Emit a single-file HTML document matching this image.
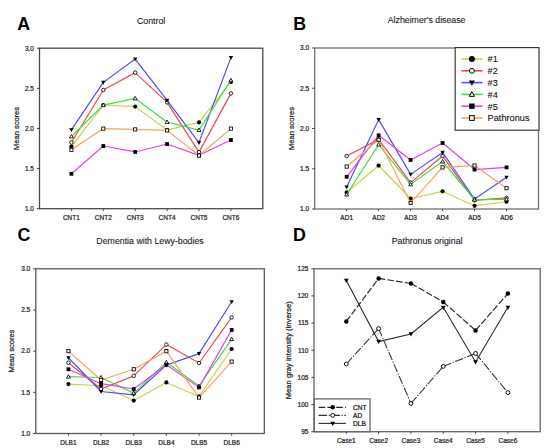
<!DOCTYPE html>
<html><head><meta charset="utf-8"><style>
html,body{margin:0;padding:0;background:#fff;}
body{width:550px;height:448px;overflow:hidden;font-family:"Liberation Sans", sans-serif;}
svg{display:block;}
</style></head><body>
<svg width="550" height="448" viewBox="0 0 550 448" font-family='"Liberation Sans", sans-serif'>
<rect width="550" height="448" fill="#fff"/>
<rect x="39.5" y="48.2" width="223.3" height="160.5" fill="none" stroke="#4a4a4a" stroke-width="1.3"/>
<line x1="36.9" y1="208.7" x2="39.5" y2="208.7" stroke="#333" stroke-width="0.9"/>
<text transform="translate(33.9,211) scale(1,1.06)" font-size="6.5" text-anchor="end" font-weight="normal" fill="#222" stroke="#222" stroke-width="0.22" >1.0</text>
<line x1="36.9" y1="168.57" x2="39.5" y2="168.57" stroke="#333" stroke-width="0.9"/>
<text transform="translate(33.9,170.88) scale(1,1.06)" font-size="6.5" text-anchor="end" font-weight="normal" fill="#222" stroke="#222" stroke-width="0.22" >1.5</text>
<line x1="36.9" y1="128.45" x2="39.5" y2="128.45" stroke="#333" stroke-width="0.9"/>
<text transform="translate(33.9,130.75) scale(1,1.06)" font-size="6.5" text-anchor="end" font-weight="normal" fill="#222" stroke="#222" stroke-width="0.22" >2.0</text>
<line x1="36.9" y1="88.32" x2="39.5" y2="88.32" stroke="#333" stroke-width="0.9"/>
<text transform="translate(33.9,90.62) scale(1,1.06)" font-size="6.5" text-anchor="end" font-weight="normal" fill="#222" stroke="#222" stroke-width="0.22" >2.5</text>
<line x1="36.9" y1="48.2" x2="39.5" y2="48.2" stroke="#333" stroke-width="0.9"/>
<text transform="translate(33.9,50.5) scale(1,1.06)" font-size="6.5" text-anchor="end" font-weight="normal" fill="#222" stroke="#222" stroke-width="0.22" >3.0</text>
<line x1="71.4" y1="208.7" x2="71.4" y2="210.9" stroke="#333" stroke-width="0.9"/>
<text transform="translate(71.4,219.9) scale(1,1.06)" font-size="6.5" text-anchor="middle" font-weight="normal" fill="#222" stroke="#222" stroke-width="0.22" >CNT1</text>
<line x1="103.3" y1="208.7" x2="103.3" y2="210.9" stroke="#333" stroke-width="0.9"/>
<text transform="translate(103.3,219.9) scale(1,1.06)" font-size="6.5" text-anchor="middle" font-weight="normal" fill="#222" stroke="#222" stroke-width="0.22" >CNT2</text>
<line x1="135.2" y1="208.7" x2="135.2" y2="210.9" stroke="#333" stroke-width="0.9"/>
<text transform="translate(135.2,219.9) scale(1,1.06)" font-size="6.5" text-anchor="middle" font-weight="normal" fill="#222" stroke="#222" stroke-width="0.22" >CNT3</text>
<line x1="167.1" y1="208.7" x2="167.1" y2="210.9" stroke="#333" stroke-width="0.9"/>
<text transform="translate(167.1,219.9) scale(1,1.06)" font-size="6.5" text-anchor="middle" font-weight="normal" fill="#222" stroke="#222" stroke-width="0.22" >CNT4</text>
<line x1="199" y1="208.7" x2="199" y2="210.9" stroke="#333" stroke-width="0.9"/>
<text transform="translate(199,219.9) scale(1,1.06)" font-size="6.5" text-anchor="middle" font-weight="normal" fill="#222" stroke="#222" stroke-width="0.22" >CNT5</text>
<line x1="230.9" y1="208.7" x2="230.9" y2="210.9" stroke="#333" stroke-width="0.9"/>
<text transform="translate(230.9,219.9) scale(1,1.06)" font-size="6.5" text-anchor="middle" font-weight="normal" fill="#222" stroke="#222" stroke-width="0.22" >CNT6</text>
<text transform="translate(151.15,23.9) scale(1,1.06)" font-size="8.8" text-anchor="middle" font-weight="normal" fill="#222" stroke="#222" stroke-width="0.1" >Control</text>
<text transform="translate(17.2,29.9) scale(1,1.0)" font-size="17.8" text-anchor="start" font-weight="bold" fill="#000"  >A</text>
<text transform="translate(19.1,128.45) rotate(-90) scale(1,1.06)" x="0" y="0" font-size="7.5" text-anchor="middle" fill="#222" stroke="#222" stroke-width="0.22">Mean scores</text>
<polyline points="71.4,146.51 103.3,105.02 135.2,106.62 167.1,130.06 199,122.43 230.9,81.9" fill="none" stroke="#c8d446" stroke-width="1.2" stroke-linejoin="round"/>
<circle cx="71.4" cy="146.51" r="2.1" fill="#000"/>
<circle cx="103.3" cy="105.02" r="2.1" fill="#000"/>
<circle cx="135.2" cy="106.62" r="2.1" fill="#000"/>
<circle cx="167.1" cy="130.06" r="2.1" fill="#000"/>
<circle cx="199" cy="122.43" r="2.1" fill="#000"/>
<circle cx="230.9" cy="81.9" r="2.1" fill="#000"/>
<polyline points="71.4,142.49 103.3,90.01 135.2,72.6 167.1,102.37 199,152.12 230.9,93.38" fill="none" stroke="#ee4a4a" stroke-width="1.2" stroke-linejoin="round"/>
<circle cx="71.4" cy="142.49" r="1.75" fill="#fff" stroke="#000" stroke-width="0.85"/>
<circle cx="103.3" cy="90.01" r="1.75" fill="#fff" stroke="#000" stroke-width="0.85"/>
<circle cx="135.2" cy="72.6" r="1.75" fill="#fff" stroke="#000" stroke-width="0.85"/>
<circle cx="167.1" cy="102.37" r="1.75" fill="#fff" stroke="#000" stroke-width="0.85"/>
<circle cx="199" cy="152.12" r="1.75" fill="#fff" stroke="#000" stroke-width="0.85"/>
<circle cx="230.9" cy="93.38" r="1.75" fill="#fff" stroke="#000" stroke-width="0.85"/>
<polyline points="71.4,129.81 103.3,82.39 135.2,59.03 167.1,100.36 199,142.57 230.9,57.59" fill="none" stroke="#5050ee" stroke-width="1.2" stroke-linejoin="round"/>
<path d="M69.2 128.27H73.6L71.4 132.12Z" fill="#000"/>
<path d="M101.1 80.85H105.5L103.3 84.7Z" fill="#000"/>
<path d="M133 57.49H137.4L135.2 61.34Z" fill="#000"/>
<path d="M164.9 98.82H169.3L167.1 102.67Z" fill="#000"/>
<path d="M196.8 141.03H201.2L199 144.88Z" fill="#000"/>
<path d="M228.7 56.05H233.1L230.9 59.9Z" fill="#000"/>
<polyline points="71.4,136.47 103.3,105.18 135.2,98.44 167.1,122.03 199,130.06 230.9,80.3" fill="none" stroke="#3ee03e" stroke-width="1.2" stroke-linejoin="round"/>
<path d="M69.45 137.94H73.35L71.4 134.43Z" fill="#fff" stroke="#000" stroke-width="0.85" stroke-linejoin="miter"/>
<path d="M101.35 106.64H105.25L103.3 103.13Z" fill="#fff" stroke="#000" stroke-width="0.85" stroke-linejoin="miter"/>
<path d="M133.25 99.9H137.15L135.2 96.39Z" fill="#fff" stroke="#000" stroke-width="0.85" stroke-linejoin="miter"/>
<path d="M165.15 123.49H169.05L167.1 119.98Z" fill="#fff" stroke="#000" stroke-width="0.85" stroke-linejoin="miter"/>
<path d="M197.05 131.52H200.95L199 128.01Z" fill="#fff" stroke="#000" stroke-width="0.85" stroke-linejoin="miter"/>
<path d="M228.95 81.76H232.85L230.9 78.25Z" fill="#fff" stroke="#000" stroke-width="0.85" stroke-linejoin="miter"/>
<polyline points="71.4,173.79 103.3,146.02 135.2,151.96 167.1,144.02 199,155.33 230.9,140.01" fill="none" stroke="#ee3cee" stroke-width="1.2" stroke-linejoin="round"/>
<rect x="69.5" y="171.89" width="3.8" height="3.8" fill="#000"/>
<rect x="101.4" y="144.12" width="3.8" height="3.8" fill="#000"/>
<rect x="133.3" y="150.06" width="3.8" height="3.8" fill="#000"/>
<rect x="165.2" y="142.12" width="3.8" height="3.8" fill="#000"/>
<rect x="197.1" y="153.43" width="3.8" height="3.8" fill="#000"/>
<rect x="229" y="138.11" width="3.8" height="3.8" fill="#000"/>
<polyline points="71.4,149.8 103.3,128.61 135.2,129.41 167.1,130.38 199,155.57 230.9,128.61" fill="none" stroke="#f4a455" stroke-width="1.2" stroke-linejoin="round"/>
<rect x="69.8" y="148.2" width="3.2" height="3.2" fill="#fff" stroke="#000" stroke-width="0.85"/>
<rect x="101.7" y="127.01" width="3.2" height="3.2" fill="#fff" stroke="#000" stroke-width="0.85"/>
<rect x="133.6" y="127.81" width="3.2" height="3.2" fill="#fff" stroke="#000" stroke-width="0.85"/>
<rect x="165.5" y="128.78" width="3.2" height="3.2" fill="#fff" stroke="#000" stroke-width="0.85"/>
<rect x="197.4" y="153.97" width="3.2" height="3.2" fill="#fff" stroke="#000" stroke-width="0.85"/>
<rect x="229.3" y="127.01" width="3.2" height="3.2" fill="#fff" stroke="#000" stroke-width="0.85"/>
<rect x="314.7" y="48" width="223.8" height="161" fill="none" stroke="#707070" stroke-width="1.3"/>
<line x1="312.1" y1="209" x2="314.7" y2="209" stroke="#333" stroke-width="0.9"/>
<text transform="translate(309.1,211.3) scale(1,1.06)" font-size="6.5" text-anchor="end" font-weight="normal" fill="#222" stroke="#222" stroke-width="0.22" >1.0</text>
<line x1="312.1" y1="168.75" x2="314.7" y2="168.75" stroke="#333" stroke-width="0.9"/>
<text transform="translate(309.1,171.05) scale(1,1.06)" font-size="6.5" text-anchor="end" font-weight="normal" fill="#222" stroke="#222" stroke-width="0.22" >1.5</text>
<line x1="312.1" y1="128.5" x2="314.7" y2="128.5" stroke="#333" stroke-width="0.9"/>
<text transform="translate(309.1,130.8) scale(1,1.06)" font-size="6.5" text-anchor="end" font-weight="normal" fill="#222" stroke="#222" stroke-width="0.22" >2.0</text>
<line x1="312.1" y1="88.25" x2="314.7" y2="88.25" stroke="#333" stroke-width="0.9"/>
<text transform="translate(309.1,90.55) scale(1,1.06)" font-size="6.5" text-anchor="end" font-weight="normal" fill="#222" stroke="#222" stroke-width="0.22" >2.5</text>
<line x1="312.1" y1="48" x2="314.7" y2="48" stroke="#333" stroke-width="0.9"/>
<text transform="translate(309.1,50.3) scale(1,1.06)" font-size="6.5" text-anchor="end" font-weight="normal" fill="#222" stroke="#222" stroke-width="0.22" >3.0</text>
<line x1="346.67" y1="209" x2="346.67" y2="211.2" stroke="#333" stroke-width="0.9"/>
<text transform="translate(346.67,220.2) scale(1,1.06)" font-size="6.5" text-anchor="middle" font-weight="normal" fill="#222" stroke="#222" stroke-width="0.22" >AD1</text>
<line x1="378.64" y1="209" x2="378.64" y2="211.2" stroke="#333" stroke-width="0.9"/>
<text transform="translate(378.64,220.2) scale(1,1.06)" font-size="6.5" text-anchor="middle" font-weight="normal" fill="#222" stroke="#222" stroke-width="0.22" >AD2</text>
<line x1="410.61" y1="209" x2="410.61" y2="211.2" stroke="#333" stroke-width="0.9"/>
<text transform="translate(410.61,220.2) scale(1,1.06)" font-size="6.5" text-anchor="middle" font-weight="normal" fill="#222" stroke="#222" stroke-width="0.22" >AD3</text>
<line x1="442.59" y1="209" x2="442.59" y2="211.2" stroke="#333" stroke-width="0.9"/>
<text transform="translate(442.59,220.2) scale(1,1.06)" font-size="6.5" text-anchor="middle" font-weight="normal" fill="#222" stroke="#222" stroke-width="0.22" >AD4</text>
<line x1="474.56" y1="209" x2="474.56" y2="211.2" stroke="#333" stroke-width="0.9"/>
<text transform="translate(474.56,220.2) scale(1,1.06)" font-size="6.5" text-anchor="middle" font-weight="normal" fill="#222" stroke="#222" stroke-width="0.22" >AD5</text>
<line x1="506.53" y1="209" x2="506.53" y2="211.2" stroke="#333" stroke-width="0.9"/>
<text transform="translate(506.53,220.2) scale(1,1.06)" font-size="6.5" text-anchor="middle" font-weight="normal" fill="#222" stroke="#222" stroke-width="0.22" >AD6</text>
<text transform="translate(426.6,23.3) scale(1,1.06)" font-size="8.8" text-anchor="middle" font-weight="normal" fill="#222" stroke="#222" stroke-width="0.1" >Alzheimer&#39;s disease</text>
<text transform="translate(293.3,29.5) scale(1,1.0)" font-size="17.8" text-anchor="start" font-weight="bold" fill="#000"  >B</text>
<text transform="translate(293.6,128.5) rotate(-90) scale(1,1.06)" x="0" y="0" font-size="7.5" text-anchor="middle" fill="#222" stroke="#222" stroke-width="0.22">Mean scores</text>
<polyline points="346.67,192.42 378.64,165.53 410.61,198.53 442.59,191.29 474.56,205.78 506.53,201.75" fill="none" stroke="#c8d446" stroke-width="1.2" stroke-linejoin="round"/>
<circle cx="346.67" cy="192.42" r="2.1" fill="#000"/>
<circle cx="378.64" cy="165.53" r="2.1" fill="#000"/>
<circle cx="410.61" cy="198.53" r="2.1" fill="#000"/>
<circle cx="442.59" cy="191.29" r="2.1" fill="#000"/>
<circle cx="474.56" cy="205.78" r="2.1" fill="#000"/>
<circle cx="506.53" cy="201.75" r="2.1" fill="#000"/>
<polyline points="346.67,156.03 378.64,139.37 410.61,182.6 442.59,156.03 474.56,200.31 506.53,197.97" fill="none" stroke="#ee4a4a" stroke-width="1.2" stroke-linejoin="round"/>
<circle cx="346.67" cy="156.03" r="1.75" fill="#fff" stroke="#000" stroke-width="0.85"/>
<circle cx="378.64" cy="139.37" r="1.75" fill="#fff" stroke="#000" stroke-width="0.85"/>
<circle cx="410.61" cy="182.6" r="1.75" fill="#fff" stroke="#000" stroke-width="0.85"/>
<circle cx="442.59" cy="156.03" r="1.75" fill="#fff" stroke="#000" stroke-width="0.85"/>
<circle cx="474.56" cy="200.31" r="1.75" fill="#fff" stroke="#000" stroke-width="0.85"/>
<circle cx="506.53" cy="197.97" r="1.75" fill="#fff" stroke="#000" stroke-width="0.85"/>
<polyline points="346.67,187.02 378.64,119.65 410.61,174.38 442.59,152.41 474.56,199.02 506.53,177.2" fill="none" stroke="#5050ee" stroke-width="1.2" stroke-linejoin="round"/>
<path d="M344.47 185.48H348.87L346.67 189.33Z" fill="#000"/>
<path d="M376.44 118.11H380.84L378.64 121.96Z" fill="#000"/>
<path d="M408.41 172.84H412.81L410.61 176.69Z" fill="#000"/>
<path d="M440.39 150.87H444.79L442.59 154.72Z" fill="#000"/>
<path d="M472.36 197.48H476.76L474.56 201.33Z" fill="#000"/>
<path d="M504.33 175.66H508.73L506.53 179.51Z" fill="#000"/>
<polyline points="346.67,194.51 378.64,144.6 410.61,184.37 442.59,161.5 474.56,199.74 506.53,199.34" fill="none" stroke="#3ee03e" stroke-width="1.2" stroke-linejoin="round"/>
<path d="M344.72 195.97H348.62L346.67 192.46Z" fill="#fff" stroke="#000" stroke-width="0.85" stroke-linejoin="miter"/>
<path d="M376.69 146.06H380.59L378.64 142.55Z" fill="#fff" stroke="#000" stroke-width="0.85" stroke-linejoin="miter"/>
<path d="M408.66 185.83H412.56L410.61 182.32Z" fill="#fff" stroke="#000" stroke-width="0.85" stroke-linejoin="miter"/>
<path d="M440.64 162.97H444.54L442.59 159.46Z" fill="#fff" stroke="#000" stroke-width="0.85" stroke-linejoin="miter"/>
<path d="M472.61 201.21H476.51L474.56 197.69Z" fill="#fff" stroke="#000" stroke-width="0.85" stroke-linejoin="miter"/>
<path d="M504.58 200.8H508.48L506.53 197.29Z" fill="#fff" stroke="#000" stroke-width="0.85" stroke-linejoin="miter"/>
<polyline points="346.67,176.8 378.64,135.34 410.61,159.98 442.59,142.99 474.56,169.56 506.53,167.38" fill="none" stroke="#ee3cee" stroke-width="1.2" stroke-linejoin="round"/>
<rect x="344.77" y="174.9" width="3.8" height="3.8" fill="#000"/>
<rect x="376.74" y="133.44" width="3.8" height="3.8" fill="#000"/>
<rect x="408.71" y="158.08" width="3.8" height="3.8" fill="#000"/>
<rect x="440.69" y="141.09" width="3.8" height="3.8" fill="#000"/>
<rect x="472.66" y="167.66" width="3.8" height="3.8" fill="#000"/>
<rect x="504.63" y="165.48" width="3.8" height="3.8" fill="#000"/>
<polyline points="346.67,166.58 378.64,139.77 410.61,202.96 442.59,167.38 474.56,165.53 506.53,188.23" fill="none" stroke="#f4a455" stroke-width="1.2" stroke-linejoin="round"/>
<rect x="345.07" y="164.98" width="3.2" height="3.2" fill="#fff" stroke="#000" stroke-width="0.85"/>
<rect x="377.04" y="138.17" width="3.2" height="3.2" fill="#fff" stroke="#000" stroke-width="0.85"/>
<rect x="409.01" y="201.36" width="3.2" height="3.2" fill="#fff" stroke="#000" stroke-width="0.85"/>
<rect x="440.99" y="165.78" width="3.2" height="3.2" fill="#fff" stroke="#000" stroke-width="0.85"/>
<rect x="472.96" y="163.93" width="3.2" height="3.2" fill="#fff" stroke="#000" stroke-width="0.85"/>
<rect x="504.93" y="186.63" width="3.2" height="3.2" fill="#fff" stroke="#000" stroke-width="0.85"/>
<rect x="455.2" y="47.6" width="83.8" height="82.6" fill="#fff" stroke="#333" stroke-width="1.15"/>
<line x1="461.5" y1="59" x2="482.7" y2="59" stroke="#c8d446" stroke-width="1.6"/>
<circle cx="471.9" cy="59" r="3" fill="#000"/>
<text transform="translate(487.6,62.3) scale(1,1.06)" font-size="9.2" text-anchor="start" font-weight="normal" fill="#111" stroke="#111" stroke-width="0.1" >#1</text>
<line x1="461.5" y1="70.8" x2="482.7" y2="70.8" stroke="#ee4a4a" stroke-width="1.6"/>
<circle cx="471.9" cy="70.8" r="2.45" fill="#fff" stroke="#000" stroke-width="1"/>
<text transform="translate(487.6,74.1) scale(1,1.06)" font-size="9.2" text-anchor="start" font-weight="normal" fill="#111" stroke="#111" stroke-width="0.1" >#2</text>
<line x1="461.5" y1="82.6" x2="482.7" y2="82.6" stroke="#5050ee" stroke-width="1.6"/>
<path d="M468.85 80.46H474.95L471.9 85.8Z" fill="#000"/>
<text transform="translate(487.6,85.9) scale(1,1.06)" font-size="9.2" text-anchor="start" font-weight="normal" fill="#111" stroke="#111" stroke-width="0.1" >#3</text>
<line x1="461.5" y1="94.4" x2="482.7" y2="94.4" stroke="#3ee03e" stroke-width="1.6"/>
<path d="M469.3 96.35H474.5L471.9 91.67Z" fill="#fff" stroke="#000" stroke-width="1" stroke-linejoin="miter"/>
<text transform="translate(487.6,97.7) scale(1,1.06)" font-size="9.2" text-anchor="start" font-weight="normal" fill="#111" stroke="#111" stroke-width="0.1" >#4</text>
<line x1="461.5" y1="106.2" x2="482.7" y2="106.2" stroke="#ee3cee" stroke-width="1.6"/>
<rect x="469.2" y="103.5" width="5.4" height="5.4" fill="#000"/>
<text transform="translate(487.6,109.5) scale(1,1.06)" font-size="9.2" text-anchor="start" font-weight="normal" fill="#111" stroke="#111" stroke-width="0.1" >#5</text>
<line x1="461.5" y1="118" x2="482.7" y2="118" stroke="#f4a455" stroke-width="1.6"/>
<rect x="469.55" y="115.65" width="4.7" height="4.7" fill="#fff" stroke="#000" stroke-width="1"/>
<text transform="translate(487.6,121.3) scale(1,1.06)" font-size="9.2" text-anchor="start" font-weight="normal" fill="#111" stroke="#111" stroke-width="0.1" >Pathronus</text>
<rect x="35.8" y="268.8" width="228.5" height="164.7" fill="none" stroke="#585858" stroke-width="1.3"/>
<line x1="33.2" y1="433.5" x2="35.8" y2="433.5" stroke="#333" stroke-width="0.9"/>
<text transform="translate(30.2,435.8) scale(1,1.06)" font-size="6.5" text-anchor="end" font-weight="normal" fill="#222" stroke="#222" stroke-width="0.22" >1.0</text>
<line x1="33.2" y1="392.32" x2="35.8" y2="392.32" stroke="#333" stroke-width="0.9"/>
<text transform="translate(30.2,394.62) scale(1,1.06)" font-size="6.5" text-anchor="end" font-weight="normal" fill="#222" stroke="#222" stroke-width="0.22" >1.5</text>
<line x1="33.2" y1="351.15" x2="35.8" y2="351.15" stroke="#333" stroke-width="0.9"/>
<text transform="translate(30.2,353.45) scale(1,1.06)" font-size="6.5" text-anchor="end" font-weight="normal" fill="#222" stroke="#222" stroke-width="0.22" >2.0</text>
<line x1="33.2" y1="309.98" x2="35.8" y2="309.98" stroke="#333" stroke-width="0.9"/>
<text transform="translate(30.2,312.28) scale(1,1.06)" font-size="6.5" text-anchor="end" font-weight="normal" fill="#222" stroke="#222" stroke-width="0.22" >2.5</text>
<line x1="33.2" y1="268.8" x2="35.8" y2="268.8" stroke="#333" stroke-width="0.9"/>
<text transform="translate(30.2,271.1) scale(1,1.06)" font-size="6.5" text-anchor="end" font-weight="normal" fill="#222" stroke="#222" stroke-width="0.22" >3.0</text>
<line x1="68.44" y1="433.5" x2="68.44" y2="435.7" stroke="#333" stroke-width="0.9"/>
<text transform="translate(68.44,444.7) scale(1,1.06)" font-size="6.5" text-anchor="middle" font-weight="normal" fill="#222" stroke="#222" stroke-width="0.22" >DLB1</text>
<line x1="101.09" y1="433.5" x2="101.09" y2="435.7" stroke="#333" stroke-width="0.9"/>
<text transform="translate(101.09,444.7) scale(1,1.06)" font-size="6.5" text-anchor="middle" font-weight="normal" fill="#222" stroke="#222" stroke-width="0.22" >DLB2</text>
<line x1="133.73" y1="433.5" x2="133.73" y2="435.7" stroke="#333" stroke-width="0.9"/>
<text transform="translate(133.73,444.7) scale(1,1.06)" font-size="6.5" text-anchor="middle" font-weight="normal" fill="#222" stroke="#222" stroke-width="0.22" >DLB3</text>
<line x1="166.37" y1="433.5" x2="166.37" y2="435.7" stroke="#333" stroke-width="0.9"/>
<text transform="translate(166.37,444.7) scale(1,1.06)" font-size="6.5" text-anchor="middle" font-weight="normal" fill="#222" stroke="#222" stroke-width="0.22" >DLB4</text>
<line x1="199.01" y1="433.5" x2="199.01" y2="435.7" stroke="#333" stroke-width="0.9"/>
<text transform="translate(199.01,444.7) scale(1,1.06)" font-size="6.5" text-anchor="middle" font-weight="normal" fill="#222" stroke="#222" stroke-width="0.22" >DLB5</text>
<line x1="231.66" y1="433.5" x2="231.66" y2="435.7" stroke="#333" stroke-width="0.9"/>
<text transform="translate(231.66,444.7) scale(1,1.06)" font-size="6.5" text-anchor="middle" font-weight="normal" fill="#222" stroke="#222" stroke-width="0.22" >DLB6</text>
<text transform="translate(150.05,243.6) scale(1,1.06)" font-size="8.8" text-anchor="middle" font-weight="normal" fill="#222" stroke="#222" stroke-width="0.1" >Dementia with Lewy-bodies</text>
<text transform="translate(17.4,241.1) scale(1,1.0)" font-size="17.8" text-anchor="start" font-weight="bold" fill="#000"  >C</text>
<text transform="translate(13.8,351.15) rotate(-90) scale(1,1.06)" x="0" y="0" font-size="7.5" text-anchor="middle" fill="#222" stroke="#222" stroke-width="0.22">Mean scores</text>
<polyline points="68.44,384.09 101.09,385.74 133.73,400.56 166.37,382.44 199.01,396.44 231.66,349.01" fill="none" stroke="#c8d446" stroke-width="1.2" stroke-linejoin="round"/>
<circle cx="68.44" cy="384.09" r="2.1" fill="#000"/>
<circle cx="101.09" cy="385.74" r="2.1" fill="#000"/>
<circle cx="133.73" cy="400.56" r="2.1" fill="#000"/>
<circle cx="166.37" cy="382.44" r="2.1" fill="#000"/>
<circle cx="199.01" cy="396.44" r="2.1" fill="#000"/>
<circle cx="231.66" cy="349.01" r="2.1" fill="#000"/>
<polyline points="68.44,362.68 101.09,389.03 133.73,375.86 166.37,344.56 199.01,363.01 231.66,317.39" fill="none" stroke="#ee4a4a" stroke-width="1.2" stroke-linejoin="round"/>
<circle cx="68.44" cy="362.68" r="1.75" fill="#fff" stroke="#000" stroke-width="0.85"/>
<circle cx="101.09" cy="389.03" r="1.75" fill="#fff" stroke="#000" stroke-width="0.85"/>
<circle cx="133.73" cy="375.86" r="1.75" fill="#fff" stroke="#000" stroke-width="0.85"/>
<circle cx="166.37" cy="344.56" r="1.75" fill="#fff" stroke="#000" stroke-width="0.85"/>
<circle cx="199.01" cy="363.01" r="1.75" fill="#fff" stroke="#000" stroke-width="0.85"/>
<circle cx="231.66" cy="317.39" r="1.75" fill="#fff" stroke="#000" stroke-width="0.85"/>
<polyline points="68.44,357.74 101.09,391.5 133.73,394.8 166.37,365.15 199.01,353.62 231.66,301.74" fill="none" stroke="#5050ee" stroke-width="1.2" stroke-linejoin="round"/>
<path d="M66.24 356.2H70.64L68.44 360.05Z" fill="#000"/>
<path d="M98.89 389.96H103.29L101.09 393.81Z" fill="#000"/>
<path d="M131.53 393.26H135.93L133.73 397.11Z" fill="#000"/>
<path d="M164.17 363.61H168.57L166.37 367.46Z" fill="#000"/>
<path d="M196.81 352.08H201.21L199.01 355.93Z" fill="#000"/>
<path d="M229.46 300.2H233.86L231.66 304.05Z" fill="#000"/>
<polyline points="68.44,376.68 101.09,377.5 133.73,393.15 166.37,362.27 199.01,385.98 231.66,339.13" fill="none" stroke="#3ee03e" stroke-width="1.2" stroke-linejoin="round"/>
<path d="M66.49 378.14H70.39L68.44 374.63Z" fill="#fff" stroke="#000" stroke-width="0.85" stroke-linejoin="miter"/>
<path d="M99.14 378.96H103.04L101.09 375.45Z" fill="#fff" stroke="#000" stroke-width="0.85" stroke-linejoin="miter"/>
<path d="M131.78 394.61H135.68L133.73 391.1Z" fill="#fff" stroke="#000" stroke-width="0.85" stroke-linejoin="miter"/>
<path d="M164.42 363.73H168.32L166.37 360.22Z" fill="#fff" stroke="#000" stroke-width="0.85" stroke-linejoin="miter"/>
<path d="M197.06 387.45H200.96L199.01 383.94Z" fill="#fff" stroke="#000" stroke-width="0.85" stroke-linejoin="miter"/>
<path d="M229.71 340.59H233.61L231.66 337.08Z" fill="#fff" stroke="#000" stroke-width="0.85" stroke-linejoin="miter"/>
<polyline points="68.44,369.27 101.09,383.68 133.73,389.03 166.37,364.74 199.01,387.38 231.66,329.99" fill="none" stroke="#ee3cee" stroke-width="1.2" stroke-linejoin="round"/>
<rect x="66.54" y="367.37" width="3.8" height="3.8" fill="#000"/>
<rect x="99.19" y="381.78" width="3.8" height="3.8" fill="#000"/>
<rect x="131.83" y="387.13" width="3.8" height="3.8" fill="#000"/>
<rect x="164.47" y="362.84" width="3.8" height="3.8" fill="#000"/>
<rect x="197.11" y="385.48" width="3.8" height="3.8" fill="#000"/>
<rect x="229.76" y="328.09" width="3.8" height="3.8" fill="#000"/>
<polyline points="68.44,351.15 101.09,379.97 133.73,369.27 166.37,351.15 199.01,397.6 231.66,361.61" fill="none" stroke="#f4a455" stroke-width="1.2" stroke-linejoin="round"/>
<rect x="66.84" y="349.55" width="3.2" height="3.2" fill="#fff" stroke="#000" stroke-width="0.85"/>
<rect x="99.49" y="378.37" width="3.2" height="3.2" fill="#fff" stroke="#000" stroke-width="0.85"/>
<rect x="132.13" y="367.67" width="3.2" height="3.2" fill="#fff" stroke="#000" stroke-width="0.85"/>
<rect x="164.77" y="349.55" width="3.2" height="3.2" fill="#fff" stroke="#000" stroke-width="0.85"/>
<rect x="197.41" y="396" width="3.2" height="3.2" fill="#fff" stroke="#000" stroke-width="0.85"/>
<rect x="230.06" y="360.01" width="3.2" height="3.2" fill="#fff" stroke="#000" stroke-width="0.85"/>
<rect x="314" y="268.8" width="226.2" height="162.9" fill="none" stroke="#666" stroke-width="1.3"/>
<line x1="311.4" y1="431.7" x2="314" y2="431.7" stroke="#333" stroke-width="0.9"/>
<text transform="translate(308.4,434) scale(1,1.06)" font-size="6.5" text-anchor="end" font-weight="normal" fill="#222" stroke="#222" stroke-width="0.22" >95</text>
<line x1="311.4" y1="404.55" x2="314" y2="404.55" stroke="#333" stroke-width="0.9"/>
<text transform="translate(308.4,406.85) scale(1,1.06)" font-size="6.5" text-anchor="end" font-weight="normal" fill="#222" stroke="#222" stroke-width="0.22" >100</text>
<line x1="311.4" y1="377.4" x2="314" y2="377.4" stroke="#333" stroke-width="0.9"/>
<text transform="translate(308.4,379.7) scale(1,1.06)" font-size="6.5" text-anchor="end" font-weight="normal" fill="#222" stroke="#222" stroke-width="0.22" >105</text>
<line x1="311.4" y1="350.25" x2="314" y2="350.25" stroke="#333" stroke-width="0.9"/>
<text transform="translate(308.4,352.55) scale(1,1.06)" font-size="6.5" text-anchor="end" font-weight="normal" fill="#222" stroke="#222" stroke-width="0.22" >110</text>
<line x1="311.4" y1="323.1" x2="314" y2="323.1" stroke="#333" stroke-width="0.9"/>
<text transform="translate(308.4,325.4) scale(1,1.06)" font-size="6.5" text-anchor="end" font-weight="normal" fill="#222" stroke="#222" stroke-width="0.22" >115</text>
<line x1="311.4" y1="295.95" x2="314" y2="295.95" stroke="#333" stroke-width="0.9"/>
<text transform="translate(308.4,298.25) scale(1,1.06)" font-size="6.5" text-anchor="end" font-weight="normal" fill="#222" stroke="#222" stroke-width="0.22" >120</text>
<line x1="311.4" y1="268.8" x2="314" y2="268.8" stroke="#333" stroke-width="0.9"/>
<text transform="translate(308.4,271.1) scale(1,1.06)" font-size="6.5" text-anchor="end" font-weight="normal" fill="#222" stroke="#222" stroke-width="0.22" >125</text>
<line x1="346.31" y1="431.7" x2="346.31" y2="433.9" stroke="#333" stroke-width="0.9"/>
<text transform="translate(346.31,442.9) scale(1,1.06)" font-size="6.5" text-anchor="middle" font-weight="normal" fill="#222" stroke="#222" stroke-width="0.22" >Case1</text>
<line x1="378.63" y1="431.7" x2="378.63" y2="433.9" stroke="#333" stroke-width="0.9"/>
<text transform="translate(378.63,442.9) scale(1,1.06)" font-size="6.5" text-anchor="middle" font-weight="normal" fill="#222" stroke="#222" stroke-width="0.22" >Case2</text>
<line x1="410.94" y1="431.7" x2="410.94" y2="433.9" stroke="#333" stroke-width="0.9"/>
<text transform="translate(410.94,442.9) scale(1,1.06)" font-size="6.5" text-anchor="middle" font-weight="normal" fill="#222" stroke="#222" stroke-width="0.22" >Case3</text>
<line x1="443.26" y1="431.7" x2="443.26" y2="433.9" stroke="#333" stroke-width="0.9"/>
<text transform="translate(443.26,442.9) scale(1,1.06)" font-size="6.5" text-anchor="middle" font-weight="normal" fill="#222" stroke="#222" stroke-width="0.22" >Case4</text>
<line x1="475.57" y1="431.7" x2="475.57" y2="433.9" stroke="#333" stroke-width="0.9"/>
<text transform="translate(475.57,442.9) scale(1,1.06)" font-size="6.5" text-anchor="middle" font-weight="normal" fill="#222" stroke="#222" stroke-width="0.22" >Case5</text>
<line x1="507.89" y1="431.7" x2="507.89" y2="433.9" stroke="#333" stroke-width="0.9"/>
<text transform="translate(507.89,442.9) scale(1,1.06)" font-size="6.5" text-anchor="middle" font-weight="normal" fill="#222" stroke="#222" stroke-width="0.22" >Case6</text>
<text transform="translate(427.1,243.6) scale(1,1.06)" font-size="8.8" text-anchor="middle" font-weight="normal" fill="#222" stroke="#222" stroke-width="0.1" >Pathronus original</text>
<text transform="translate(293,241.3) scale(1,1.0)" font-size="17.8" text-anchor="start" font-weight="bold" fill="#000"  >D</text>
<text transform="translate(291,350.25) rotate(-90) scale(1,1.06)" x="0" y="0" font-size="7.65" text-anchor="middle" fill="#222" stroke="#222" stroke-width="0.22">Mean gray intensity (inverse)</text>
<line x1="346.31" y1="321.47" x2="378.63" y2="278.41" stroke="#262626" stroke-width="1.15" stroke-dasharray="6.6,2.2"/>
<line x1="378.63" y1="278.41" x2="410.94" y2="283.46" stroke="#262626" stroke-width="1.15" stroke-dasharray="6.6,2.2"/>
<line x1="410.94" y1="283.46" x2="443.26" y2="301.98" stroke="#262626" stroke-width="1.15" stroke-dasharray="6.6,2.2"/>
<line x1="443.26" y1="301.98" x2="475.57" y2="330.38" stroke="#262626" stroke-width="1.15" stroke-dasharray="6.6,2.2"/>
<line x1="475.57" y1="330.38" x2="507.89" y2="293.62" stroke="#262626" stroke-width="1.15" stroke-dasharray="6.6,2.2"/>
<circle cx="346.31" cy="321.47" r="2.25" fill="#000"/>
<circle cx="378.63" cy="278.41" r="2.25" fill="#000"/>
<circle cx="410.94" cy="283.46" r="2.25" fill="#000"/>
<circle cx="443.26" cy="301.98" r="2.25" fill="#000"/>
<circle cx="475.57" cy="330.38" r="2.25" fill="#000"/>
<circle cx="507.89" cy="293.62" r="2.25" fill="#000"/>
<line x1="346.31" y1="363.99" x2="378.63" y2="328.58" stroke="#333" stroke-width="1.05" stroke-dasharray="8.5,1.6,1.2,1.6"/>
<line x1="378.63" y1="328.58" x2="410.94" y2="403.46" stroke="#333" stroke-width="1.05" stroke-dasharray="8.5,1.6,1.2,1.6"/>
<line x1="410.94" y1="403.46" x2="443.26" y2="366.38" stroke="#333" stroke-width="1.05" stroke-dasharray="8.5,1.6,1.2,1.6"/>
<line x1="443.26" y1="366.38" x2="475.57" y2="353.4" stroke="#333" stroke-width="1.05" stroke-dasharray="8.5,1.6,1.2,1.6"/>
<line x1="475.57" y1="353.4" x2="507.89" y2="392.6" stroke="#333" stroke-width="1.05" stroke-dasharray="8.5,1.6,1.2,1.6"/>
<circle cx="346.31" cy="363.99" r="1.93" fill="#fff" stroke="#000" stroke-width="0.94"/>
<circle cx="378.63" cy="328.58" r="1.93" fill="#fff" stroke="#000" stroke-width="0.94"/>
<circle cx="410.94" cy="403.46" r="1.93" fill="#fff" stroke="#000" stroke-width="0.94"/>
<circle cx="443.26" cy="366.38" r="1.93" fill="#fff" stroke="#000" stroke-width="0.94"/>
<circle cx="475.57" cy="353.4" r="1.93" fill="#fff" stroke="#000" stroke-width="0.94"/>
<circle cx="507.89" cy="392.6" r="1.93" fill="#fff" stroke="#000" stroke-width="0.94"/>
<polyline points="346.31,280.42 378.63,341.56 410.94,333.96 443.26,307.35 475.57,361.98 507.89,307.35" fill="none" stroke="#262626" stroke-width="1.05"/>
<path d="M343.89 278.73H348.73L346.31 282.96Z" fill="#000"/>
<path d="M376.21 339.87H381.05L378.63 344.1Z" fill="#000"/>
<path d="M408.52 332.27H413.36L410.94 336.5Z" fill="#000"/>
<path d="M440.84 305.66H445.68L443.26 309.89Z" fill="#000"/>
<path d="M473.15 360.28H477.99L475.57 364.52Z" fill="#000"/>
<path d="M505.47 305.66H510.31L507.89 309.89Z" fill="#000"/>
<rect x="314.3" y="398.9" width="55.7" height="32.8" fill="#fff" stroke="#666" stroke-width="1.3"/>
<line x1="318.6" y1="407.3" x2="345.9" y2="407.3" stroke="#262626" stroke-width="1.15" stroke-dasharray="6.6,2.2"/>
<circle cx="332.7" cy="407.3" r="2.31" fill="#000"/>
<text transform="translate(353,409.7) scale(1,1.06)" font-size="6.6" text-anchor="start" font-weight="normal" fill="#111" stroke="#111" stroke-width="0.22" >CNT</text>
<line x1="318.6" y1="415.35" x2="345.9" y2="415.35" stroke="#333" stroke-width="1.05" stroke-dasharray="8.5,1.6,1.2,1.6"/>
<circle cx="332.7" cy="415.35" r="1.93" fill="#fff" stroke="#000" stroke-width="0.94"/>
<text transform="translate(353,417.75) scale(1,1.06)" font-size="6.6" text-anchor="start" font-weight="normal" fill="#111" stroke="#111" stroke-width="0.22" >AD</text>
<line x1="318.6" y1="423.4" x2="345.9" y2="423.4" stroke="#262626" stroke-width="1.05"/>
<path d="M330.28 421.71H335.12L332.7 425.94Z" fill="#000"/>
<text transform="translate(353,425.8) scale(1,1.06)" font-size="6.6" text-anchor="start" font-weight="normal" fill="#111" stroke="#111" stroke-width="0.22" >DLB</text>
</svg>
</body></html>
